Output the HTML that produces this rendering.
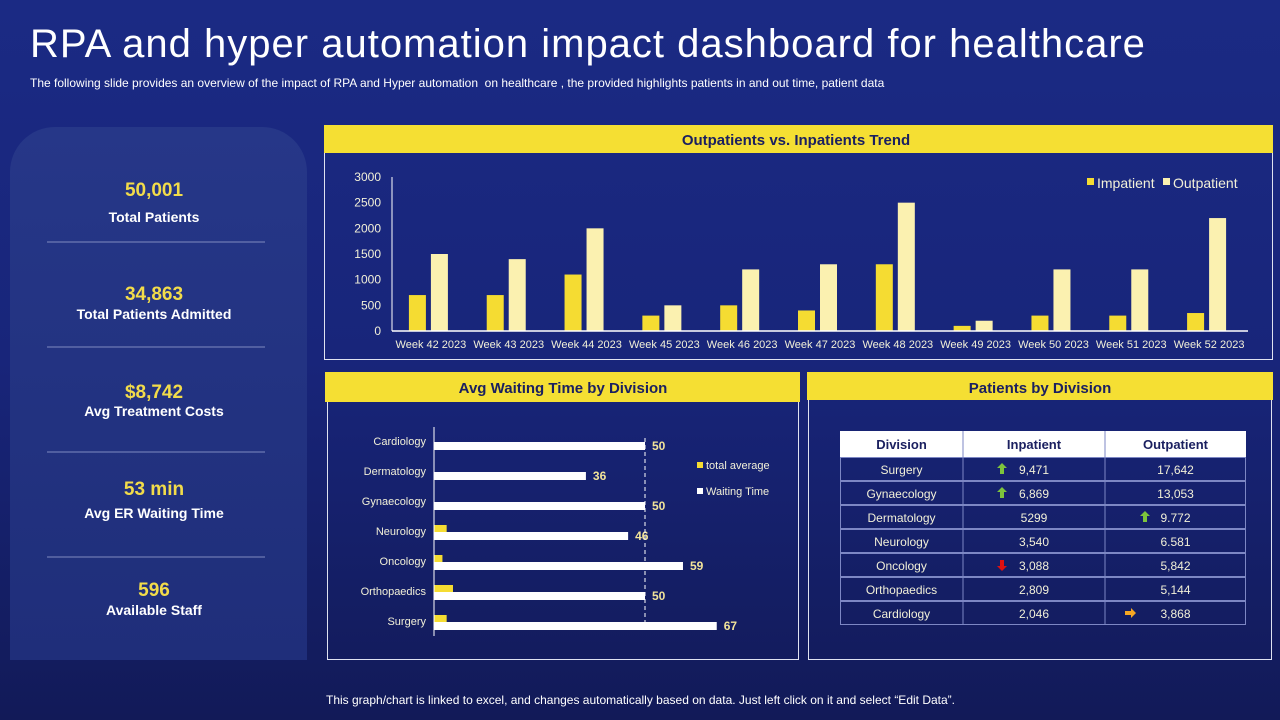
<!DOCTYPE html>
<html><head><meta charset="utf-8"><style>
html,body{margin:0;padding:0;width:1280px;height:720px;overflow:hidden;font-family:"Liberation Sans",sans-serif;}
body{background:linear-gradient(180deg,#1b2a84 0%,#18257a 50%,#121a58 100%);position:relative;}
.abs{position:absolute;}
</style></head><body>
<div class="abs" style="left:30px;top:22px;font-size:40px;letter-spacing:1px;color:#fff;white-space:nowrap;">RPA and hyper automation impact dashboard for healthcare</div>
<div class="abs" style="left:30px;top:76px;font-size:12px;color:#fff;white-space:nowrap;">The following slide provides an overview of the impact of RPA and Hyper automation &nbsp;on healthcare , the provided highlights patients in and out time, patient data</div>
<div class="abs" style="left:10px;top:127px;width:297px;height:533px;background:linear-gradient(180deg,#263788,#1f2e7a);border-radius:45px 45px 0 0;"></div>
<svg class="abs" style="left:0;top:0" width="1280" height="720" id="svg">
<g font-family="Liberation Sans, sans-serif" text-anchor="middle" font-weight="bold">
<text x="154" y="196" fill="#f2dc4a" font-size="19">50,001</text>
<text x="154" y="222" fill="#fff" font-size="14">Total Patients</text>
<line x1="47" y1="242" x2="265" y2="242" stroke="#7f8ac0"/>
<text x="154" y="300" fill="#f2dc4a" font-size="19">34,863</text>
<text x="154" y="319" fill="#fff" font-size="14">Total Patients Admitted</text>
<line x1="47" y1="347" x2="265" y2="347" stroke="#7f8ac0"/>
<text x="154" y="398" fill="#f2dc4a" font-size="19">$8,742</text>
<text x="154" y="416" fill="#fff" font-size="14">Avg  Treatment Costs</text>
<line x1="47" y1="452" x2="265" y2="452" stroke="#7f8ac0"/>
<text x="154" y="495" fill="#f2dc4a" font-size="19">53 min</text>
<text x="154" y="518" fill="#fff" font-size="14">Avg ER Waiting Time</text>
<line x1="47" y1="557" x2="265" y2="557" stroke="#7f8ac0"/>
<text x="154" y="596" fill="#f2dc4a" font-size="19">596</text>
<text x="154" y="615" fill="#fff" font-size="14">Available Staff</text>
</g>
<rect x="324.5" y="125.5" width="948" height="234" fill="none" stroke="#dfe2f0"/>
<rect x="324" y="125" width="949" height="28" fill="#f5df33"/>
<text x="796" y="145" text-anchor="middle" font-size="15" font-weight="bold" fill="#1b2060">Outpatients vs. Inpatients Trend</text>
<rect x="327.5" y="372.5" width="471" height="287" fill="none" stroke="#dfe2f0"/>
<rect x="325" y="372" width="475" height="30" fill="#f5df33"/>
<text x="563" y="393" text-anchor="middle" font-size="15" font-weight="bold" fill="#1b2060">Avg Waiting Time by Division</text>
<rect x="808.5" y="372.5" width="463" height="287" fill="none" stroke="#dfe2f0"/>
<rect x="807" y="372" width="466" height="28" fill="#f5df33"/>
<text x="1040" y="393" text-anchor="middle" font-size="15" font-weight="bold" fill="#1b2060">Patients by Division</text>
<g id="trend"></g><g id="wait"></g><g id="table"></g>
</svg>
<div class="abs" style="left:326px;top:693px;font-size:12px;color:#fff;white-space:nowrap;">This graph/chart is linked to excel, and changes automatically based on data. Just left click on it and select “Edit Data”.</div>
<script>
const weeks=["Week 42 2023","Week 43 2023","Week 44 2023","Week 45 2023","Week 46 2023","Week 47 2023","Week 48 2023","Week 49 2023","Week 50 2023","Week 51 2023","Week 52 2023"];
const inpatient=[700,700,1100,300,500,400,1300,100,300,300,350];
const outpatient=[1500,1400,2000,500,1200,1300,2500,200,1200,1200,2200];
const yTicks=[0,500,1000,1500,2000,2500,3000];
const divisions=["Cardiology","Dermatology","Gynaecology","Neurology","Oncology","Orthopaedics","Surgery"];
const waitingTime=[50,36,50,46,59,50,67];
const totalAverage=[0,0,0,3,2,4.5,3];
const avgLine=50;
const tableRows=[["Surgery","9,471","17,642"],["Gynaecology","6,869","13,053"],["Dermatology","5299","9.772"],["Neurology","3,540","6.581"],["Oncology","3,088","5,842"],["Orthopaedics","2,809","5,144"],["Cardiology","2,046","3,868"]];
const NS="http://www.w3.org/2000/svg";
function mk(p,t,a,txt){const e=document.createElementNS(NS,t);for(const k in a)e.setAttribute(k,a[k]);if(txt!==undefined)e.textContent=txt;p.appendChild(e);return e;}
const tg=document.getElementById('trend');
const x0=392,x1=1248,y0=331,yTop=177,ymax=3000;
const ys=v=>y0-(v/ymax)*(y0-yTop);
const step=(x1-x0)/weeks.length;
yTicks.forEach(t=>{const e=mk(tg,'text',{x:381,y:ys(t)+4,'text-anchor':'end','font-size':12,fill:'#f2f0d8'},t);
});
weeks.forEach((w,i)=>{const cx=x0+step*(i+0.5);
let r=mk(tg,'rect',{x:cx-22,y:ys(inpatient[i]),width:17,height:y0-ys(inpatient[i]),fill:'#f5dc32'});

r=mk(tg,'rect',{x:cx,y:ys(outpatient[i]),width:17,height:y0-ys(outpatient[i]),fill:'#fbf1b0'});

const t=mk(tg,'text',{x:cx,y:348,'text-anchor':'middle','font-size':11,fill:'#f2f0d8'},w);
});
let l=mk(tg,'line',{x1:x0,y1:yTop,x2:x0,y2:y0,stroke:'#fff','stroke-width':1});

l=mk(tg,'line',{x1:x0,y1:y0,x2:x1,y2:y0,stroke:'#fff','stroke-width':1.5});

let g=mk(tg,'g',{});
mk(g,'rect',{x:1087,y:178,width:7,height:7,fill:'#f5dc32'});mk(g,'text',{x:1097,y:188,'font-size':14,fill:'#f2f0d8'},'Impatient');
mk(g,'rect',{x:1163,y:178,width:7,height:7,fill:'#fbf1b0'});mk(g,'text',{x:1173,y:188,'font-size':14,fill:'#f2f0d8'},'Outpatient');
const wg=document.getElementById('wait');
const ax=434,pxu=211/50,r0=446,rs=30;
const xs=v=>ax+v*pxu;
divisions.forEach((d,i)=>{const cy=r0+rs*i;
let t=mk(wg,'text',{x:426,y:cy-1,'text-anchor':'end','font-size':11,fill:'#f2f0d8'},d);

if(totalAverage[i]>0){let y=mk(wg,'rect',{x:ax,y:cy-11,width:xs(totalAverage[i])-ax,height:7,fill:'#f5dc32'});
}
let r=mk(wg,'rect',{x:ax,y:cy-4,width:xs(waitingTime[i])-ax,height:8,fill:'#fff'});

t=mk(wg,'text',{x:xs(waitingTime[i])+7,y:cy+4,'font-size':12,'font-weight':'bold',fill:'#f2e49a'},waitingTime[i]);
});
l=mk(wg,'line',{x1:ax,y1:427,x2:ax,y2:636,stroke:'#fff'});
l=mk(wg,'line',{x1:xs(avgLine),y1:438,x2:xs(avgLine),y2:622,stroke:'#fff','stroke-dasharray':'4,3'});

g=mk(wg,'g',{});
mk(g,'rect',{x:697,y:462,width:6,height:6,fill:'#f5dc32'});mk(g,'text',{x:706,y:469,'font-size':11,fill:'#f2f0d8'},'total average');
mk(g,'rect',{x:697,y:488,width:6,height:6,fill:'#fff'});mk(g,'text',{x:706,y:495,'font-size':11,fill:'#f2f0d8'},'Waiting Time');
const tb=document.getElementById('table');
const cols=[840,963,1105,1246],hy=431,hh=26,rh=24;
let h=mk(tb,'rect',{x:cols[0],y:hy,width:cols[3]-cols[0],height:hh,fill:'#fff'});

["Division","Inpatient","Outpatient"].forEach((c,i)=>{const t=mk(tb,'text',{x:(cols[i]+cols[i+1])/2,y:hy+18,'text-anchor':'middle','font-size':13,'font-weight':'bold',fill:'#1b2060'},c);
});
tableRows.forEach((row,i)=>{const y=hy+hh+rh*i;
let r=mk(tb,'rect',{x:cols[0]+.5,y:y+.5,width:cols[3]-cols[0]-1,height:rh-1,fill:'none',stroke:'#7d87c4'});

row.forEach((c,j)=>{const t=mk(tb,'text',{x:(cols[j]+cols[j+1])/2,y:y+17,'text-anchor':'middle','font-size':12,fill:'#f2f0d8'},c);
});});
for(let j=1;j<3;j++){l=mk(tb,'line',{x1:cols[j],y1:hy,x2:cols[j],y2:hy+hh+rh*7,stroke:'#7d87c4'});
}
function arrow(x,y,color,dir){const p=dir==='up'?`${x},${y-6} ${x+5},${y-1} ${x+2},${y-1} ${x+2},${y+5} ${x-2},${y+5} ${x-2},${y-1} ${x-5},${y-1}`:dir==='down'?`${x},${y+6} ${x+5},${y+1} ${x+2},${y+1} ${x+2},${y-5} ${x-2},${y-5} ${x-2},${y+1} ${x-5},${y+1}`:`${x+6},${y} ${x+1},${y-5} ${x+1},${y-2} ${x-5},${y-2} ${x-5},${y+2} ${x+1},${y+2} ${x+1},${y+5}`;
const e=mk(tb,'polygon',{points:p,fill:color});}
arrow(1002,469,'#7dc43c','up');arrow(1002,493,'#7dc43c','up');arrow(1145,517,'#7dc43c','up');arrow(1002,565,'#e01010','down');arrow(1130,613,'#f5a623','right');
</script>
</body></html>
